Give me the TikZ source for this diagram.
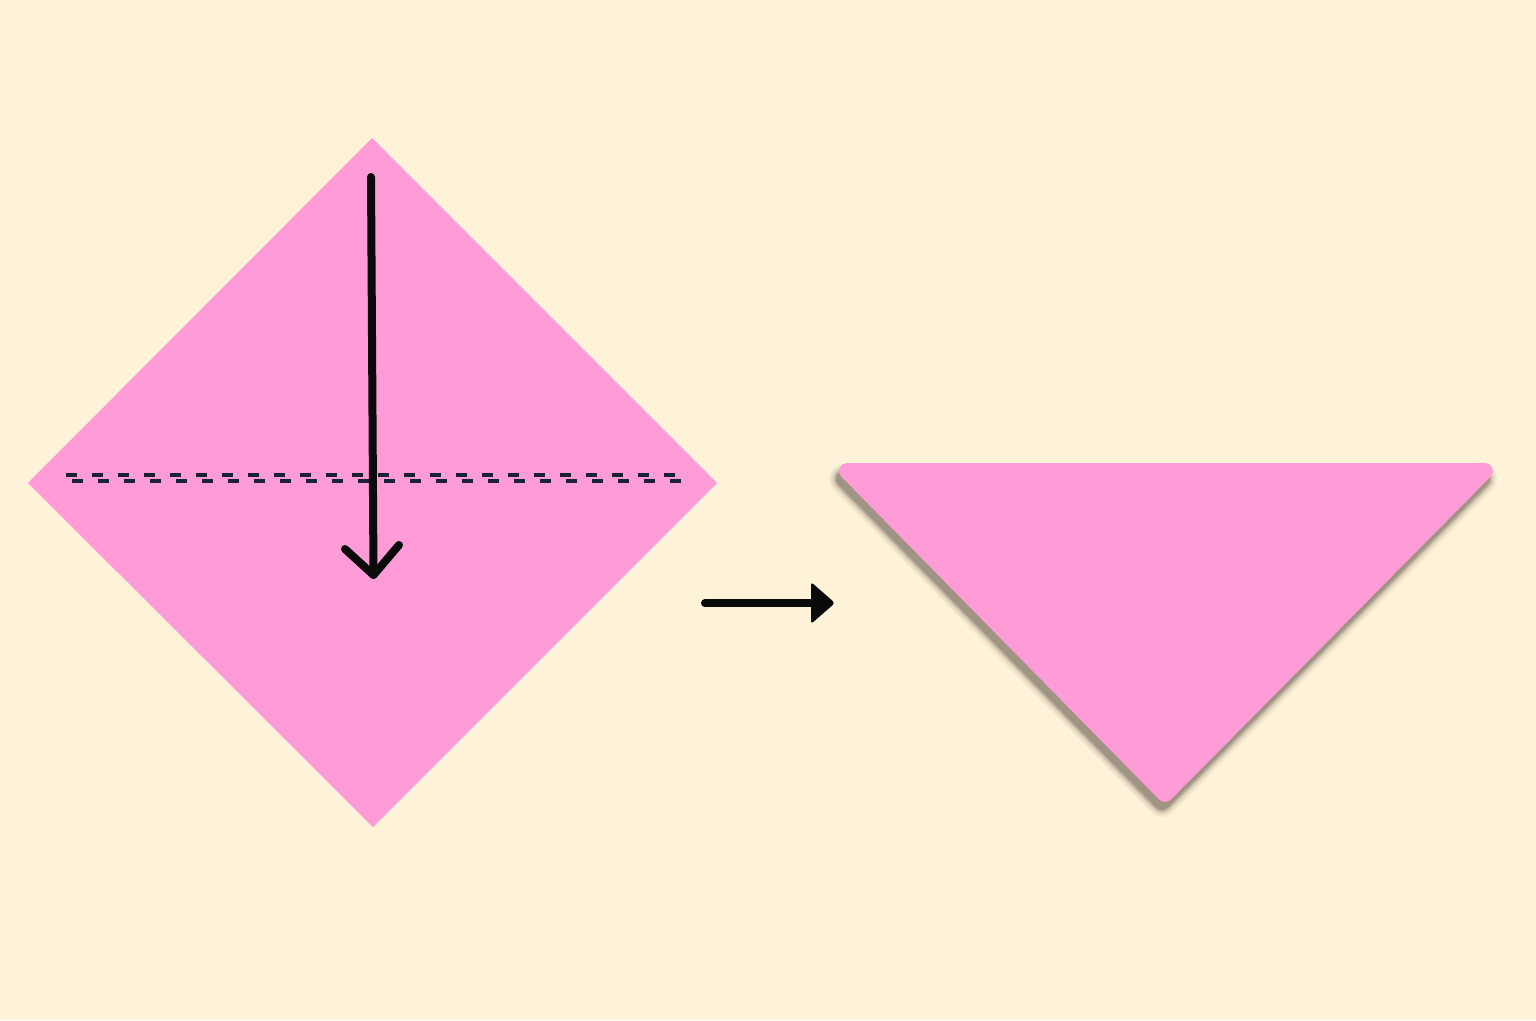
\documentclass[tikz,border=0pt]{standalone}
\usetikzlibrary{arrows.meta}
\definecolor{bgc}{HTML}{FEF3D8}
\definecolor{paper}{HTML}{FF9BD6}
\definecolor{foldc}{HTML}{1B2236}
\definecolor{ink}{HTML}{0A0A0A}
\definecolor{shad}{HTML}{9E9282}
\tikzset{
  inkline/.style={draw=ink, line width=8, line cap=round, line join=round},
  foldline/.style={draw=foldc, line width=4.8, dash pattern=on 11 off 15},
}
\begin{document}
\begin{tikzpicture}[x=1pt,y=-1pt]
\fill[bgc] (0,0) rectangle (1536,1020);
\useasboundingbox (0,0) rectangle (1536,1020);
% diamond (unfolded square)
\coordinate (dT) at (372,138);
\coordinate (dL) at (28,483);
\coordinate (dR) at (717,483);
\coordinate (dB) at (373,827);
\fill[paper] (dT) -- (dR) -- (dB) -- (dL) -- cycle;
% fold line (staggered dashes)
\coordinate (f1a) at (66,475);
\coordinate (f1b) at (686,475);
\coordinate (f2a) at (72,481);
\coordinate (f2b) at (690,481);
\draw[foldline] (f1a) -- (f1b);
\draw[foldline] (f2a) -- (f2b);
% fold arrow
\coordinate (a1) at (371,177);
\coordinate (a2) at (373.5,575);
\draw[inkline] (a1) -- (a2);
\draw[inkline] (345,549) -- (a2) -- (399,545);
% step arrow
\coordinate (s1) at (705,603);
\coordinate (s2) at (812,603);
\draw[inkline] (s1) -- (s2);
\fill[ink, rounded corners=3] (811,582) -- (835,603) -- (811,624) -- cycle;
% folded triangle with soft shadow
\coordinate (tL) at (847,471);
\coordinate (tR) at (1485,471);
\coordinate (tB) at (1165,794);
\foreach \o/\w in {0.10/30,0.15/26,0.25/22,0.45/19,0.9/16} {
  \filldraw[shad, opacity=\o, line width=\w, line join=round]
    ([shift={(-3,8)}]tL) -- ([shift={(-3,8)}]tR) -- ([shift={(-3,8)}]tB) -- cycle;
}
\filldraw[paper, line width=16, line join=round] (tL) -- (tR) -- (tB) -- cycle;
\end{tikzpicture}
\end{document}
